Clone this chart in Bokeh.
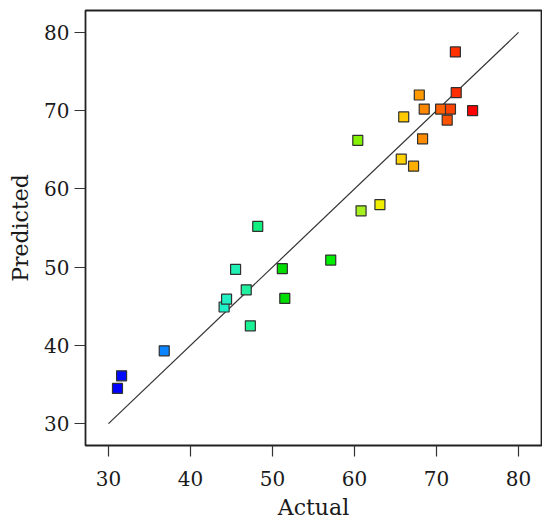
import numpy as np
from bokeh.plotting import figure
from bokeh.models import ColumnDataSource, Range1d, FixedTicker, LinearColorMapper
from bokeh.transform import transform
from bokeh.embed import file_html
from bokeh.resources import INLINE

# ---- data ----
actual = [31.1, 31.6, 36.8, 44.1, 44.4, 45.5, 46.8, 47.3, 48.2, 51.2, 51.5, 57.1,
          60.4, 60.8, 63.1, 65.7, 66.0, 67.2, 67.9, 68.3, 68.5, 70.5, 71.3, 71.7,
          72.3, 72.4, 74.4]
predicted = [34.5, 36.1, 39.3, 44.9, 45.9, 49.7, 47.1, 42.5, 55.2, 49.8, 46.0, 50.9,
             66.2, 57.2, 58.0, 63.8, 69.2, 62.9, 72.0, 66.4, 70.2, 70.2, 68.8, 70.2,
             77.5, 72.3, 70.0]
line_x = [30, 80]
line_y = [30, 80]
ticks = [30, 40, 50, 60, 70, 80]

# colour scale (rainbow, by actual value)
stop_vals = [31.0, 36.8, 44.1, 46.8, 48.2, 51.3, 57.1, 60.4, 60.8, 63.1, 65.8, 67.2,
             68.2, 70.5, 71.5, 72.4, 74.4]
stop_cols = ["#0000ff", "#0a84ff", "#20f0c8", "#20f0a0", "#10f080", "#00dd00",
             "#00ee00", "#80f000", "#a8f020", "#f0f000", "#ffd000", "#ffb000",
             "#ff9000", "#ff6000", "#ff5000", "#ff3000", "#ff0000"]


def hex2rgb(h):
    return [int(h[i:i + 2], 16) for i in (1, 3, 5)]


lo, hi = min(stop_vals), max(stop_vals)
grid = np.linspace(lo, hi, 256)
rgb = np.array([hex2rgb(c) for c in stop_cols], dtype=float)
chan = [np.interp(grid, stop_vals, rgb[:, k]) for k in range(3)]
palette = ["#%02x%02x%02x" % (int(round(r)), int(round(g)), int(round(b)))
           for r, g, b in zip(*chan)]
mapper = LinearColorMapper(palette=palette, low=lo, high=hi)

src = ColumnDataSource(dict(actual=actual, predicted=predicted))

FONT = "DejaVu Serif"

p = figure(output_backend="svg", toolbar_location=None,
           frame_width=456, frame_height=435,
           min_border_left=85, min_border_right=1, min_border_top=10, min_border_bottom=73,
           x_range=Range1d(27.2, 82.8), y_range=Range1d(27.2, 82.8))
p.xgrid.visible = False
p.ygrid.visible = False
p.outline_line_color = "#222222"
p.outline_line_width = 1.8
p.background_fill_color = "white"
p.border_fill_color = "white"

p.line(line_x, line_y, line_color="#333333", line_width=1.2)
p.scatter("actual", "predicted", source=src, marker="square", size=10,
          fill_color=transform("actual", mapper), line_color="#303030", line_width=1.2)

for ax, lab in ((p.xaxis, "Actual"), (p.yaxis, "Predicted")):
    ax.ticker = FixedTicker(ticks=ticks)
    ax.axis_label = lab
    ax.axis_line_color = None
    ax.minor_tick_line_color = None
    ax.major_tick_in = 0
    ax.major_tick_out = 11
    ax.major_tick_line_color = "#333333"
    ax.major_tick_line_width = 1.2
    ax.major_label_text_font = FONT
    ax.major_label_text_font_size = "20px"
    ax.major_label_text_color = "#1a1a1a"
    ax.axis_label_text_font = FONT
    ax.axis_label_text_font_size = "22px"
    ax.axis_label_text_font_style = "normal"
    ax.axis_label_text_color = "#1a1a1a"

p.xaxis.major_label_standoff = 14
p.xaxis.axis_label_standoff = 6
p.yaxis.major_label_standoff = 5
p.yaxis.axis_label_standoff = 8

open("out.html", "w").write(file_html(p, INLINE))
